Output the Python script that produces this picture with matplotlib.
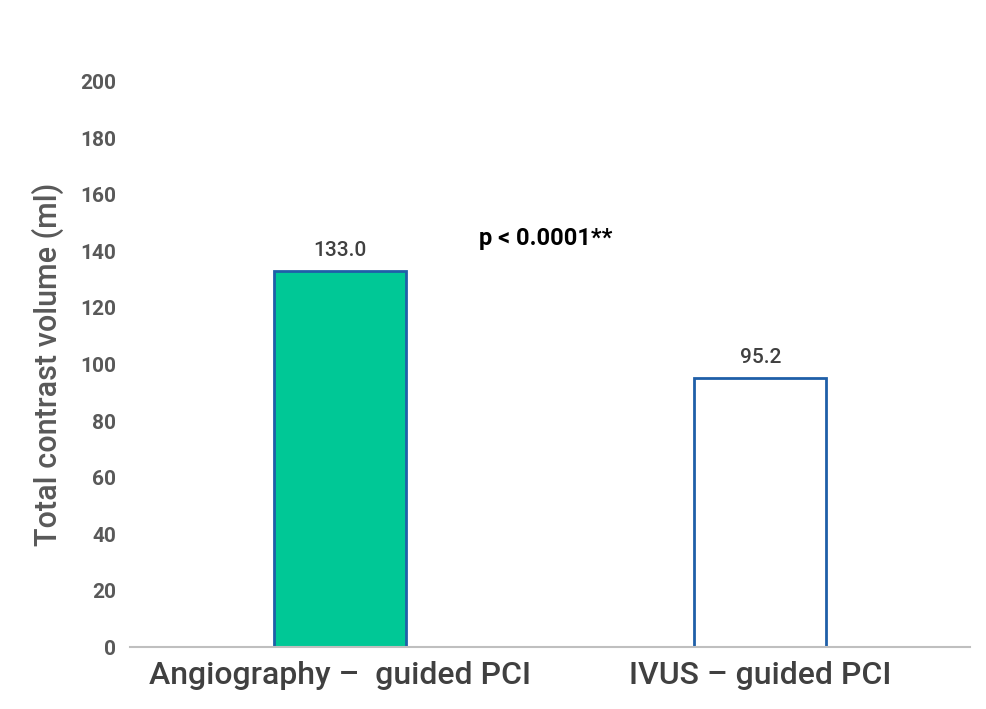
import matplotlib.pyplot as plt

categories = ['Angiography –  guided PCI', 'IVUS – guided PCI']
values = [133.0, 95.2]
value_labels = ['133.0', '95.2']
yticks = [0, 20, 40, 60, 80, 100, 120, 140, 160, 180, 200]

plt.rcParams['font.family'] = 'Roboto'

fig = plt.figure(figsize=(9.86, 7.09), dpi=100)
ax = fig.add_axes([0.132, 0.0874, 0.852, 0.797])

ax.bar([0], values[0], width=0.314, color='#00C896', edgecolor='#1F5FA8', linewidth=2)
ax.bar([1], values[1], width=0.314, color='white', edgecolor='#1F5FA8', linewidth=2)

for i in range(len(values)):
    ax.text(i, values[i] + 4, value_labels[i], ha='center', va='bottom',
            fontsize=15, fontweight='medium', color='#404040')

ax.text(0.49, 140.5, 'p < 0.0001**', ha='center', va='bottom', fontsize=17,
        fontweight='bold', color='black')

ax.set_xlim(-0.5, 1.5)
ax.set_ylim(0, 200)
ax.set_yticks(yticks)
ax.set_yticklabels([str(t) for t in yticks], fontsize=15, fontweight='bold', color='#595959')
ax.set_xticks([0, 1])
ax.set_xticklabels(categories, fontsize=23, fontweight='medium', color='#404040')
ax.tick_params(axis='both', length=0, pad=10)
ax.set_ylabel('Total contrast volume (ml)', fontsize=22, fontweight='medium',
              color='#595959', labelpad=12)

for s in ['top', 'right', 'left']:
    ax.spines[s].set_visible(False)
ax.spines['bottom'].set_color('#BFBFBF')
ax.spines['bottom'].set_linewidth(1.5)

fig.savefig('out.png', dpi=100)
